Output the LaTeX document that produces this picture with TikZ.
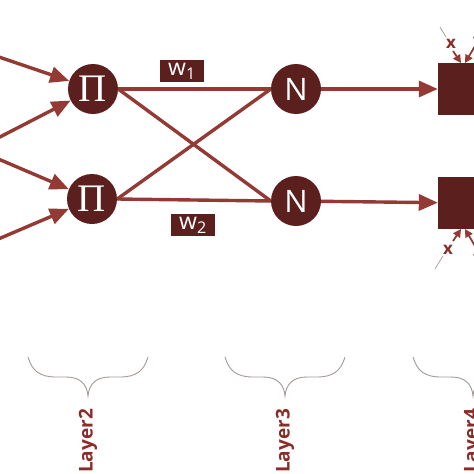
\documentclass[tikz,border=0pt]{standalone}
\usepackage{fontspec}
\newfontfamily\labfont{Open Sans}
\newfontfamily\grfont{Liberation Serif}
\usetikzlibrary{arrows.meta}
\definecolor{dark}{HTML}{5B1F1D}
\definecolor{linec}{HTML}{923A33}
\definecolor{labc}{HTML}{8A2C28}
\definecolor{bracec}{HTML}{A89898}
\begin{document}
\begin{tikzpicture}[x=1pt,y=-1pt,
  circ/.style={circle,fill=dark,minimum size=50pt,inner sep=0pt,text=white},
  sqbox/.style={rectangle,fill=dark,minimum width=52pt,minimum height=52pt,inner sep=0pt},
  wbox/.style={rectangle,fill=dark,minimum width=44pt,minimum height=22pt,inner sep=0pt,text=white,font=\labfont\fontsize{23}{23}\selectfont},
  conn/.style={draw=linec,line width=3.4pt},
  arr/.style={conn,-{Triangle[length=19pt,width=16pt]}},
  small/.style={draw=linec,line width=1.8pt,-{Triangle[length=8pt,width=8pt]}},
  xlab/.style={text=labc,font=\labfont\bfseries\fontsize{17}{17}\selectfont,inner sep=0pt},
  layer/.style={rotate=90,text=labc,font=\labfont\bfseries\fontsize{19}{19}\selectfont,inner sep=0pt},
  brace/.style={draw=bracec,line width=0.9pt}]
\useasboundingbox (0,0) rectangle (474,474);
\fill[white] (0,0) rectangle (474,474);

\node[circ,font=\grfont\fontsize{39}{39}\selectfont] (p1) at (93,89) {Π};
\node[circ,font=\grfont\fontsize{39}{39}\selectfont] (p2) at (92,199) {Π};
\node[circ,font=\labfont\fontsize{31}{31}\selectfont] (n1) at (296,89) {N};
\node[circ,font=\labfont\fontsize{31}{31}\selectfont] (n2) at (296,201) {N};
\node[sqbox] (s1) at (464,89) {};
\node[sqbox] (s2) at (464,203) {};

\coordinate (a1) at (-4,56);
\coordinate (a2) at (-4,139);
\coordinate (a3) at (-4,158);
\coordinate (a4) at (-4,240);
\draw[arr] (a1) -- (p1);
\draw[arr] (a2) -- (p1);
\draw[arr] (a3) -- (p2);
\draw[arr] (a4) -- (p2);

\draw[conn] (p1.east) -- (n1.west);
\draw[conn] (p2.east) -- (n2.west);
\draw[conn] (p1.east) -- (n2.west);
\draw[conn] (p2.east) -- (n1.west);

\draw[arr] (n1) -- (s1);
\draw[arr] (n2) -- (s2);

\node[wbox] (w1) at (182,71) {w\textsubscript{1}};
\node[wbox] (w2) at (193,225) {w\textsubscript{2}};

% small inputs on squares
\coordinate (tx) at (453,51);
\coordinate (ty) at (475,46);
\coordinate (tx2) at (461,63);
\coordinate (ty2) at (465,63);
\draw[small] (tx) -- (tx2);
\draw[small] (ty) -- (ty2);
\node[xlab] (x1) at (451,44) {x};
\node[xlab] (y1) at (478,44) {y};
\coordinate (g1a) at (440,27);
\coordinate (g1b) at (446,37);
\draw[draw=bracec,line width=0.7pt] (g1a) -- (g1b);

\coordinate (bx) at (453,241);
\coordinate (by) at (475,246);
\coordinate (bx2) at (461,229);
\coordinate (by2) at (465,229);
\draw[small] (bx) -- (bx2);
\draw[small] (by) -- (by2);
\node[xlab] (x2) at (448,250) {x};
\node[xlab] (y2) at (478,250) {y};
\coordinate (g2a) at (435,269);
\coordinate (g2b) at (443,256);
\draw[draw=bracec,line width=0.7pt] (g2a) -- (g2b);

% braces
\foreach \c in {88,285,473} {
  \draw[brace] (\c-60,357) .. controls (\c-56,371) and (\c-48,377) .. (\c-32,377)
    -- (\c-22,377) .. controls (\c-8,377) and (\c-1,384) .. (\c,396)
    .. controls (\c+1,384) and (\c+8,377) .. (\c+22,377)
    -- (\c+32,377) .. controls (\c+48,377) and (\c+56,371) .. (\c+60,357);
}
\node[layer] (l2) at (88,441) {Layer2};
\node[layer] (l3) at (285,441) {Layer3};
\node[layer] (l4) at (473,441) {Layer4};
\end{tikzpicture}
\end{document}
